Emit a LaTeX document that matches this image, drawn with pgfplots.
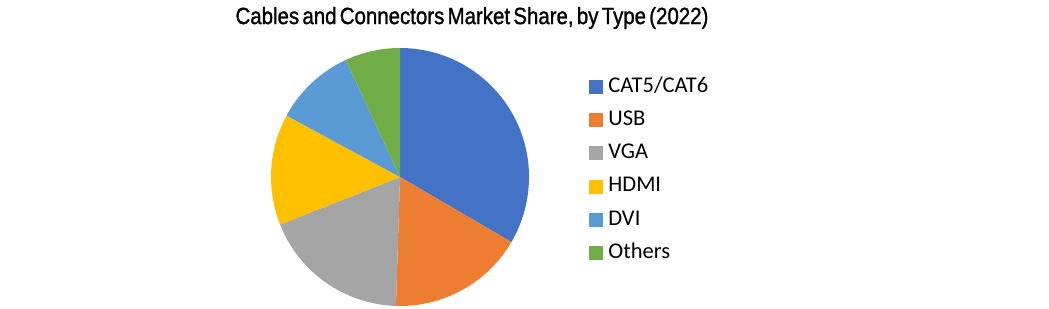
\documentclass[border=0pt]{standalone}
\usepackage{pgfplots}
\pgfplotsset{compat=1.18}
\usepackage{fontspec}
\setmainfont{Carlito}
\newfontfamily\titlefont[FakeBold=1.3]{Liberation Sans}
\definecolor{c1}{HTML}{4472C4}
\definecolor{c2}{HTML}{ED7D31}
\definecolor{c3}{HTML}{A5A5A5}
\definecolor{c4}{HTML}{FFC000}
\definecolor{c5}{HTML}{5B9BD5}
\definecolor{c6}{HTML}{70AD47}
% slice(start cumulative %, end cumulative %, colour)
\newcommand\slice[3]{%
  \fill[#3] (axis cs:400,131) -- ++({90-3.6*#1}:129bp)
    arc[start angle={90-3.6*#1}, end angle={90-3.6*#2}, radius=129bp] -- cycle;}
\newcommand\legsq[1]{\fill[#1] (0bp,-6.5bp) rectangle (13bp,6.5bp); \path (19bp,0bp);}
\begin{document}
\begin{tikzpicture}
\begin{axis}[x=1bp, y=1bp, xmin=0, xmax=1049, ymin=0, ymax=308,
  hide axis, clip=false,
  legend cell align=left,
  legend style={at={(axis cs:589,232)}, anchor=north west, draw=none, fill=none,
    inner sep=0pt, outer sep=0pt,
    font=\fontsize{22.5bp}{27bp}\selectfont, row sep=12.3bp,
    nodes={inner sep=0pt, text height=16bp, text depth=5bp}},
]
\path (axis cs:0,0) (axis cs:1049,308);
% shares (%): CAT5/CAT6 33.4, USB 17.1, VGA 18.5, HDMI 13.9, DVI 10.2, Others 6.9
\slice{0}{33.4}{c1}
\slice{33.4}{50.5}{c2}
\slice{50.5}{69.0}{c3}
\slice{69.0}{82.9}{c4}
\slice{82.9}{93.1}{c5}
\slice{93.1}{100}{c6}
\addlegendimage{legend image code/.code={\legsq{c1}}}
\addlegendentry{CAT5/CAT6}
\addlegendimage{legend image code/.code={\legsq{c2}}}
\addlegendentry{USB}
\addlegendimage{legend image code/.code={\legsq{c3}}}
\addlegendentry{VGA}
\addlegendimage{legend image code/.code={\legsq{c4}}}
\addlegendentry{HDMI}
\addlegendimage{legend image code/.code={\legsq{c5}}}
\addlegendentry{DVI}
\addlegendimage{legend image code/.code={\legsq{c6}}}
\addlegendentry{Others}
\node[anchor=center, inner sep=0pt] at (axis cs:472,290)
  {\scalebox{0.87}[1]{\titlefont\fontsize{23.5bp}{27bp}\selectfont\spaceskip=0.16em Cables and Connectors Market Share, by Type (2022)}};
\end{axis}
\end{tikzpicture}
\end{document}
